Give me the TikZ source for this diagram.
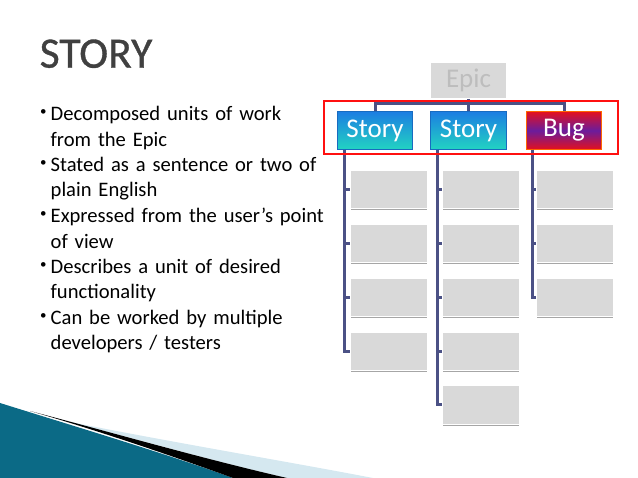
\documentclass[tikz,border=0pt]{standalone}
\usepackage{fontspec}
\setmainfont{Carlito}
\newfontfamily\headfont[FakeBold=0.8]{Carlito}
\usepackage{tikz}
\usepackage{xcolor}
\usetikzlibrary{positioning,calc,shadows}
\definecolor{cTitle}{HTML}{404040}
\definecolor{cLink}{HTML}{4B5185}
\definecolor{cFrame}{HTML}{FF1010}
\definecolor{cGrey}{HTML}{D9D9D9}
\definecolor{cEpicTx}{HTML}{BDBDBD}
\definecolor{cSkyTop}{HTML}{1C7EE2}
\definecolor{cSkyBot}{HTML}{22D3C2}
\definecolor{cRed}{HTML}{E3101F}
\definecolor{cPurple}{HTML}{6B1C9C}
\definecolor{cTealD}{HTML}{0B6A86}
\definecolor{cTealL}{HTML}{4AAECB}
\definecolor{cIce}{HTML}{D5E8F0}
\newcommand{\bitem}[2]{\hangindent=10.5pt\hangafter=1\noindent
  \makebox[10.5pt][l]{\raisebox{5pt}{\fontsize{13}{13}\selectfont\textbullet}}%
  #1\hfil\break #2\par}
\tikzset{
  box/.style   ={minimum width=75.5pt,minimum height=37.6pt,inner sep=0pt,
                 font=\fontsize{27}{27}\selectfont},
  ebox/.style  ={box,fill=cGrey,draw=white,line width=1pt,text=cEpicTx,
                 minimum height=36pt},
  sbox/.style  ={box,top color=cSkyTop,bottom color=cSkyBot,
                 draw=cSkyTop!85!black,line width=0.6pt,text=white},
  bbox/.style  ={box,top color=cRed,bottom color=cRed,middle color=cPurple,
                 draw=orange!80!red,line width=0.6pt,text=white},
  tbox/.style  ={minimum width=76.6pt,minimum height=38.3pt,inner sep=0pt,
                 fill=cGrey,draw=white,line width=1.2pt,
                 drop shadow={shadow xshift=0pt,shadow yshift=-1.5pt,
                 opacity=0.35,fill=black}},
  link/.style  ={draw=cLink,line width=3pt},
  frame/.style ={draw=cFrame,line width=1.8pt},
  txt/.style   ={font=\fontsize{20.6}{25.5}\selectfont,inner sep=0pt,
                 text width=300pt,align=left},
}
\begin{document}
\begin{tikzpicture}[x=1pt,y=-1pt]
\useasboundingbox (0,0) rectangle (638,478);
\shade[left color=cTealD,middle color=cTealL,right color=cTealD]
  (0,403) .. controls (80,428) and (170,455) .. (233,478) -- (0,478) -- cycle;
\fill[cIce] (60,420) .. controls (170,442) and (290,462) .. (373,478)
  -- (287,478) .. controls (200,458) and (120,434) .. cycle;
\fill[black] (30,411) .. controls (110,432) and (200,458) .. (287,478)
  -- (233,478) .. controls (170,455) and (90,428) .. cycle;
\node[anchor=base west,inner sep=0pt,text=cTitle,font=\headfont\fontsize{43.5}{43.5}\selectfont]
  (title) at (39.5,67.7) {STORY};
\node[txt,anchor=north west] (list) at (40,106) {%
  \bitem{Decomposed units of work}{from the Epic}
  \bitem{Stated as a sentence or two of}{plain English}
  \bitem{Expressed from the user’s point}{of view}
  \bitem{Describes a unit of desired}{functionality}
  \bitem{Can be worked by multiple}{developers / testers}};
\node[ebox] (epic) at (468.5,80.5) {Epic};
\node[sbox] (s1)  at (375,130.5)   {Story};
\node[sbox] (s2)  at (468.5,130.5) {Story};
\node[bbox] (bug) at (564,130.5)   {Bug};
\coordinate (bus) at (468.5,103.3);
\draw[link] (s1.north) |- (bus) -| (bug.north);
\draw[link] (epic) -- (s2);
\node[tbox] (a1) at (389,189.2) {};
\node[tbox] (a2) at (389,243.3) {};
\node[tbox] (a3) at (389,297.4) {};
\node[tbox] (a4) at (389,351.5) {};
\node[tbox] (b1) at (481,189.2) {};
\node[tbox] (b2) at (481,243.3) {};
\node[tbox] (b3) at (481,297.4) {};
\node[tbox] (b4) at (481,351.5) {};
\node[tbox] (b5) at (481,405.0) {};
\node[tbox] (c1) at (575,189.2) {};
\node[tbox] (c2) at (575,243.3) {};
\node[tbox] (c3) at (575,297.4) {};
\draw[link] ([xshift=8pt]s1.south west) |- (a1.west);
\draw[link] ([xshift=8pt]s1.south west) |- (a2.west);
\draw[link] ([xshift=8pt]s1.south west) |- (a3.west);
\draw[link] ([xshift=8pt]s1.south west) |- (a4.west);
\draw[link] ([xshift=7pt]s2.south west) |- (b1.west);
\draw[link] ([xshift=7pt]s2.south west) |- (b2.west);
\draw[link] ([xshift=7pt]s2.south west) |- (b3.west);
\draw[link] ([xshift=7pt]s2.south west) |- (b4.west);
\draw[link] ([xshift=7pt]s2.south west) |- (b5.west);
\draw[link] ([xshift=7pt]bug.south west) |- (c1.west);
\draw[link] ([xshift=7pt]bug.south west) |- (c2.west);
\draw[link] ([xshift=7pt]bug.south west) |- (c3.west);
\draw[frame] (324,100.7) rectangle (617.7,154);
\end{tikzpicture}
\end{document}
